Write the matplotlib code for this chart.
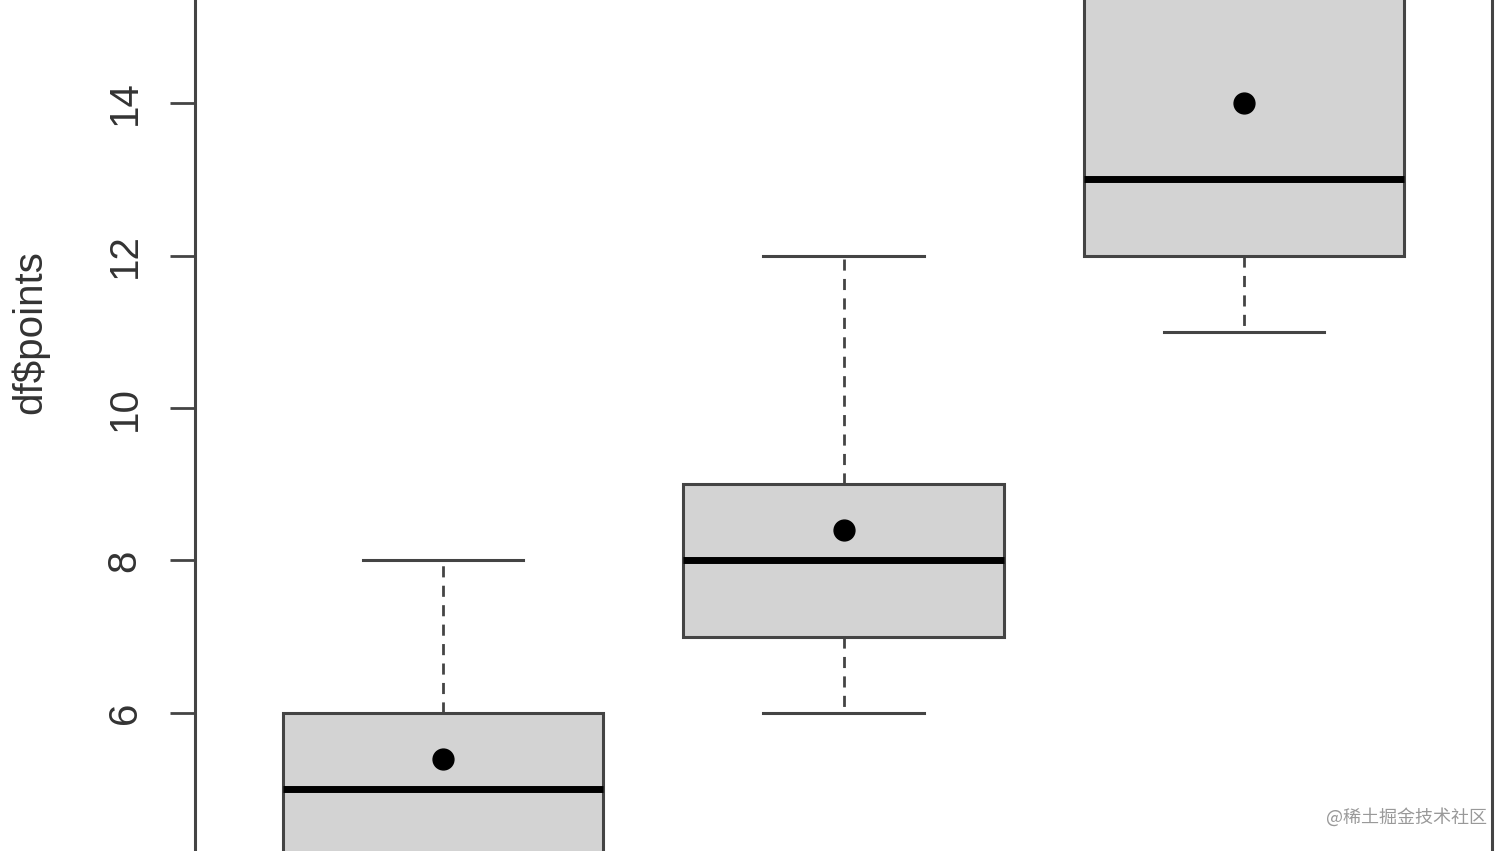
import matplotlib.pyplot as plt

# data (values hidden by the crop are guessed)
groups = ['A', 'B', 'C']
q1 = [4, 7, 12]
medians = [5, 8, 13]
q3 = [6, 9, 16]
whis_lo = [3, 6, 11]
whis_hi = [8, 12, 18]
means = [5.4, 8.4, 14]
yticks = [6, 8, 10, 12, 14]

plt.rcParams['font.family'] = ['Liberation Sans', 'DejaVu Sans']

fig = plt.figure(figsize=(15.12, 8.51), dpi=100)
ax = fig.add_axes([195 / 1512, 0, (1492 - 195) / 1512, 1])

stats = []
for i in range(len(groups)):
    stats.append(dict(label=groups[i], q1=q1[i], med=medians[i], q3=q3[i],
                      whislo=whis_lo[i], whishi=whis_hi[i], fliers=[]))

edge = '#444444'
ax.bxp(stats, positions=[1, 2, 3], widths=0.8, patch_artist=True, showfliers=False,
       boxprops=dict(facecolor='#d3d3d3', edgecolor=edge, linewidth=2.2),
       medianprops=dict(color='black', linewidth=5, solid_capstyle='butt'),
       whiskerprops=dict(color=edge, linewidth=2.0, linestyle=(0, (4, 3))),
       capprops=dict(color=edge, linewidth=2.2), capwidths=0.4)
ax.plot([1, 2, 3], means, 'o', color='black', markersize=15, zorder=5)

ax.set_xlim(0.38, 3.62)
ax.set_ylim(4.19, 15.351)
ax.set_xticks([])
ax.set_yticks(yticks)
ax.set_yticklabels([str(t) for t in yticks], rotation=90, va='center', fontsize=29)
ax.tick_params(axis='y', length=18, width=2.0, color=edge, pad=19, labelcolor='#333333')

# y label sits where R put it in the uncropped plot
fig.text(30 / 1512, 1 - 332 / 851, 'df$points', rotation=90, ha='center', va='center',
         fontsize=29, color='#333333')

for s in ['top', 'bottom']:
    ax.spines[s].set_visible(False)
for s in ['left', 'right']:
    ax.spines[s].set_color(edge)
    ax.spines[s].set_linewidth(2.2)

fig.text(1487 / 1512, 1 - 817 / 851, '@稀土掘金技术社区', ha='right', va='center',
         fontsize=13, color='#999999', family=['Noto Sans CJK SC', 'DejaVu Sans'])

fig.savefig('out.png', dpi=100)
